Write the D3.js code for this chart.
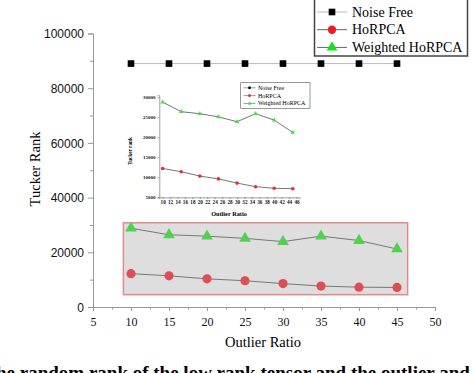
<!DOCTYPE html>
<html>
<head>
<meta charset="utf-8">
<script src="https://cdn.jsdelivr.net/npm/d3@7"></script>
<style>
  html, body { margin: 0; padding: 0; background: #fff; }
  svg { display: block; }
</style>
</head>
<body>
<svg id="chart" width="474" height="373"></svg>
<script>
'use strict';

var ratios = [10, 15, 20, 25, 30, 35, 40, 45],
    noiseFree = [89000, 89000, 89000, 89000, 89000, 89000, 89000, 89000],
    horpca = [12200, 11400, 10300, 9600, 8550, 7650, 7250, 7150],
    weighted = [28800, 26400, 25900, 25100, 23900, 25900, 24300, 21200],
    xTicks = [5, 10, 15, 20, 25, 30, 35, 40, 45, 50],
    yTicks = [0, 20000, 40000, 60000, 80000, 100000],
    insetXTicks = [10, 12, 14, 16, 18, 20, 22, 24, 26, 28, 30, 32, 34, 36, 38, 40, 42, 44, 46],
    insetYTicks = [5000, 10000, 15000, 20000, 25000, 30000],
    seriesNames = ['Noise Free', 'HoRPCA', 'Weighted HoRPCA'],
    highlightX = [9, 46.4],
    highlightY = [4500, 30800];

var svg = d3.select('#chart'),
    serif = '"Liberation Serif", "Times New Roman", serif',
    sans = '"Liberation Sans", Arial, sans-serif';

var x = d3.scaleLinear().domain([5, 50]).range([93, 435]),
    y = d3.scaleLinear().domain([0, 100000]).range([307, 33.5]);

var triangle = d3.symbol().type(d3.symbolTriangle),
    square = d3.symbol().type(d3.symbolSquare);

function points(values) {
  return ratios.map(function (r, i) {
    return {x: r, y: values[i]};
  });
}

// highlight box behind the low series
svg.append('rect')
    .attr('x', x(highlightX[0]))
    .attr('y', y(highlightY[1]))
    .attr('width', x(highlightX[1]) - x(highlightX[0]))
    .attr('height', y(highlightY[0]) - y(highlightY[1]))
    .attr('fill', '#dedede')
    .attr('stroke', '#e58a8a')
    .attr('stroke-width', 1.5);

// main axes
var xAxis = svg.append('g')
    .attr('transform', 'translate(0,307)')
    .call(d3.axisBottom(x).tickValues(d3.range(5, 50.1, 2.5)).tickSize(4).tickFormat(''));
xAxis.selectAll('.tick')
    .filter(function (d) { return xTicks.indexOf(d) < 0; })
    .select('line').attr('y2', 2.5);
xAxis.selectAll('.tick')
    .filter(function (d) { return xTicks.indexOf(d) >= 0; })
    .append('text')
    .attr('y', 19)
    .attr('fill', '#111')
    .style('font', '12px ' + serif)
    .text(function (d) { return d; });

var yAxis = svg.append('g')
    .attr('transform', 'translate(93,0)')
    .call(d3.axisLeft(y).tickValues(d3.range(0, 100001, 10000)).tickSize(5).tickFormat(''));
yAxis.selectAll('.tick')
    .filter(function (d) { return yTicks.indexOf(d) < 0; })
    .select('line').attr('x2', -3);
yAxis.selectAll('.tick')
    .filter(function (d) { return yTicks.indexOf(d) >= 0; })
    .append('text')
    .attr('x', -9)
    .attr('dy', '0.36em')
    .attr('fill', '#111')
    .style('font', '12px ' + sans)
    .text(function (d) { return d; });

svg.selectAll('.domain, .tick line').attr('stroke', '#999');
svg.selectAll('.tick text').attr('text-anchor', function () {
  return this.parentNode.parentNode === yAxis.node() ? 'end' : 'middle';
});

svg.append('text')
    .attr('x', 263).attr('y', 347)
    .attr('text-anchor', 'middle')
    .style('font', '14.5px ' + serif)
    .text('Outlier Ratio');

svg.append('text')
    .attr('transform', 'translate(40,169) rotate(-90)')
    .attr('text-anchor', 'middle')
    .style('font', '14.5px ' + serif)
    .text('Tucker Rank');

// main series
var line = d3.line()
    .x(function (d) { return x(d.x); })
    .y(function (d) { return y(d.y); });

svg.append('path').datum(points(noiseFree))
    .attr('d', line).attr('fill', 'none').attr('stroke', '#bbb').attr('stroke-width', 1);
svg.append('path').datum(points(horpca))
    .attr('d', line).attr('fill', 'none').attr('stroke', '#777').attr('stroke-width', 1);
svg.append('path').datum(points(weighted))
    .attr('d', line).attr('fill', 'none').attr('stroke', '#777').attr('stroke-width', 1);

svg.append('g').selectAll('path').data(points(noiseFree)).join('path')
    .attr('transform', function (d) { return 'translate(' + x(d.x) + ',' + y(d.y) + ')'; })
    .attr('d', square.size(44))
    .attr('fill', '#000');
svg.append('g').selectAll('circle').data(points(horpca)).join('circle')
    .attr('cx', function (d) { return x(d.x); })
    .attr('cy', function (d) { return y(d.y); })
    .attr('r', 4.6)
    .attr('fill', '#dd4f57');
svg.append('g').selectAll('path').data(points(weighted)).join('path')
    .attr('transform', function (d) { return 'translate(' + x(d.x) + ',' + y(d.y) + ')'; })
    .attr('d', triangle.size(58))
    .attr('fill', '#4fd24f');

// main legend
var legend = svg.append('g');
legend.append('rect')
    .attr('x', 314.5).attr('y', -3)
    .attr('width', 153).attr('height', 59)
    .attr('fill', '#fff')
    .attr('stroke', '#444')
    .attr('stroke-width', 1.5);

var legendRows = legend.selectAll('g').data(seriesNames).join('g')
    .attr('transform', function (d, i) { return 'translate(0,' + (12 + i * 17.7) + ')'; });
legendRows.append('line')
    .attr('x1', 317).attr('x2', 347)
    .attr('stroke', function (d, i) { return i === 0 ? '#bbb' : '#666'; })
    .attr('stroke-width', 1);
legendRows.each(function (d, i) {
  var g = d3.select(this);
  if (i === 0) {
    g.append('path').attr('transform', 'translate(332,0)').attr('d', square.size(44)).attr('fill', '#000');
  } else if (i === 1) {
    g.append('circle').attr('cx', 332).attr('r', 4.2).attr('fill', '#ee1c1c');
  } else {
    g.append('path').attr('transform', 'translate(332,0)').attr('d', triangle.size(50)).attr('fill', '#18e018');
  }
});
legendRows.append('text')
    .attr('x', 352).attr('dy', '0.33em')
    .style('font', '14px ' + serif)
    .text(function (d) { return d; });

// inset chart
var ix = d3.scaleLinear().domain([9.1, 46.8]).range([159.3, 299.5]),
    iy = d3.scaleLinear().domain([5000, 30500]).range([197.3, 95.3]);

var inset = svg.append('g');

var ixAxis = inset.append('g')
    .attr('transform', 'translate(0,197.3)')
    .call(d3.axisBottom(ix).tickValues(insetXTicks).tickSize(1.8).tickPadding(1.5));
ixAxis.selectAll('text')
    .attr('fill', '#111')
    .style('font', 'bold 5.2px ' + serif);

var iyAxis = inset.append('g')
    .attr('transform', 'translate(159.3,0)')
    .call(d3.axisLeft(iy).tickValues(insetYTicks).tickSize(1.8).tickPadding(2).tickFormat(d3.format('d')));
iyAxis.selectAll('text')
    .attr('fill', '#111')
    .style('font', 'bold 5px ' + serif);

inset.selectAll('.domain, .tick line').attr('stroke', '#777').attr('stroke-width', 0.7);

inset.append('text')
    .attr('x', 229).attr('y', 216)
    .attr('text-anchor', 'middle')
    .style('font', 'bold 6.3px ' + serif)
    .text('Outlier Ratio');
inset.append('text')
    .attr('transform', 'translate(132,151) rotate(-90)')
    .attr('text-anchor', 'middle')
    .style('font', 'bold 5.2px ' + serif)
    .text('Tucker rank');

var insetLine = d3.line()
    .x(function (d) { return ix(d.x); })
    .y(function (d) { return iy(d.y); });

inset.append('path').datum(points(horpca))
    .attr('d', insetLine).attr('fill', 'none').attr('stroke', '#666').attr('stroke-width', 0.9);
inset.append('path').datum(points(weighted))
    .attr('d', insetLine).attr('fill', 'none').attr('stroke', '#666').attr('stroke-width', 0.9);

inset.append('g').selectAll('circle').data(points(horpca)).join('circle')
    .attr('cx', function (d) { return ix(d.x); })
    .attr('cy', function (d) { return iy(d.y); })
    .attr('r', 1.8)
    .attr('fill', '#e0303a');
inset.append('g').selectAll('path').data(points(weighted)).join('path')
    .attr('transform', function (d) { return 'translate(' + ix(d.x) + ',' + iy(d.y) + ')'; })
    .attr('d', triangle.size(9))
    .attr('fill', '#44e044');

var insetLegend = inset.append('g');
insetLegend.append('rect')
    .attr('x', 240.7).attr('y', 82.7)
    .attr('width', 69.3).attr('height', 25.6)
    .attr('fill', '#fff')
    .attr('stroke', '#555')
    .attr('stroke-width', 0.6);
var insetRows = insetLegend.selectAll('g.row').data(seriesNames).join('g')
    .attr('class', 'row')
    .attr('transform', function (d, i) { return 'translate(0,' + (87.8 + i * 7.8) + ')'; });
insetRows.append('line')
    .attr('x1', 243.5).attr('x2', 255.5)
    .attr('stroke', '#555').attr('stroke-width', 0.6);
insetRows.append('circle')
    .attr('cx', 249.5).attr('r', 1.5)
    .attr('fill', function (d, i) { return ['#111', '#e0303a', '#44e044'][i]; });
insetRows.append('text')
    .attr('x', 258).attr('dy', '0.33em')
    .style('font', '6px ' + serif)
    .text(function (d) { return d; });

// caption cut off at the bottom edge of the figure, as in the source
svg.append('text')
    .attr('x', -4).attr('y', 379)
    .style('font', 'bold 19px ' + serif)
    .text('he random rank of the low rank tensor and the outlier and the fil');
</script>
</body>
</html>
